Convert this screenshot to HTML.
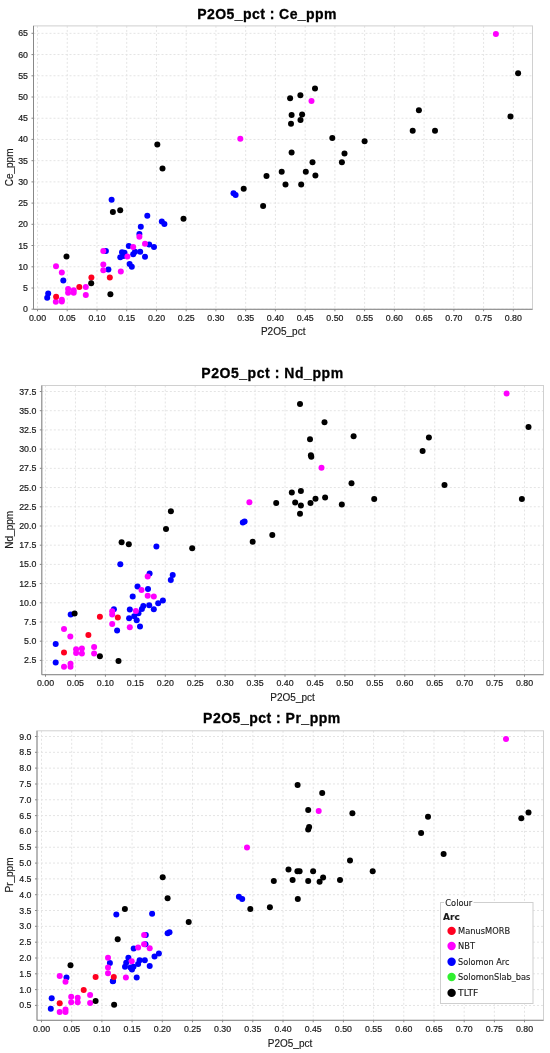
<!DOCTYPE html><html><head><meta charset="utf-8"><title>P2O5_pct scatter plots</title><style>
html,body{margin:0;padding:0;background:#fff;width:550px;height:1053px;overflow:hidden}
svg{display:block}
.t{font:bold 14px "Liberation Sans",Arial,sans-serif;fill:#000;stroke:#000;stroke-width:0.3px}
.tk{font:8.8px "Liberation Sans",Arial,sans-serif;fill:#1a1a1a;stroke:#1a1a1a;stroke-width:0.2px}
.al{font:10px "Liberation Sans",Arial,sans-serif;fill:#1a1a1a;stroke:#1a1a1a;stroke-width:0.15px}
.lg{font:9px "DejaVu Sans Condensed","DejaVu Sans","Liberation Sans",sans-serif;fill:#1a1a1a;stroke:#1a1a1a;stroke-width:0.12px}
</style></head><body>
<svg width="550" height="1053" viewBox="0 0 550 1053">
<path d="M37.50 25.9V309.3M67.24 25.9V309.3M96.98 25.9V309.3M126.72 25.9V309.3M156.46 25.9V309.3M186.20 25.9V309.3M215.94 25.9V309.3M245.68 25.9V309.3M275.42 25.9V309.3M305.16 25.9V309.3M334.90 25.9V309.3M364.64 25.9V309.3M394.38 25.9V309.3M424.12 25.9V309.3M453.86 25.9V309.3M483.60 25.9V309.3M513.34 25.9V309.3M33.5 309.20H532.5M33.5 287.98H532.5M33.5 266.76H532.5M33.5 245.54H532.5M33.5 224.32H532.5M33.5 203.10H532.5M33.5 181.88H532.5M33.5 160.66H532.5M33.5 139.44H532.5M33.5 118.22H532.5M33.5 97.00H532.5M33.5 75.78H532.5M33.5 54.56H532.5M33.5 33.34H532.5" stroke="#e4e4e4" stroke-width="1" stroke-dasharray="2 2" fill="none"/>
<rect x="33.5" y="25.9" width="499.0" height="283.4" fill="none" stroke="#d0d0d0" stroke-width="1"/>
<path d="M33.5 25.9V309.3H532.5M37.5 309.3v2M67.2 309.3v2M97.0 309.3v2M126.7 309.3v2M156.5 309.3v2M186.2 309.3v2M215.9 309.3v2M245.7 309.3v2M275.4 309.3v2M305.2 309.3v2M334.9 309.3v2M364.6 309.3v2M394.4 309.3v2M424.1 309.3v2M453.9 309.3v2M483.6 309.3v2M513.3 309.3v2M33.5 309.2h-2M33.5 288.0h-2M33.5 266.8h-2M33.5 245.5h-2M33.5 224.3h-2M33.5 203.1h-2M33.5 181.9h-2M33.5 160.7h-2M33.5 139.4h-2M33.5 118.2h-2M33.5 97.0h-2M33.5 75.8h-2M33.5 54.6h-2M33.5 33.3h-2" stroke="#888" stroke-width="1" fill="none"/>
<g fill="#0000ff"><circle cx="63.3" cy="280.6" r="3"/><circle cx="48.2" cy="293.4" r="3"/><circle cx="47.2" cy="297.7" r="3"/><circle cx="108.4" cy="269.4" r="3"/><circle cx="105.9" cy="251.0" r="3"/><circle cx="129.6" cy="264.1" r="3"/><circle cx="131.8" cy="266.7" r="3"/><circle cx="120.3" cy="257.3" r="3"/><circle cx="122.0" cy="252.3" r="3"/><circle cx="124.5" cy="252.7" r="3"/><circle cx="123.5" cy="256.0" r="3"/><circle cx="128.8" cy="246.1" r="3"/><circle cx="133.2" cy="254.2" r="3"/><circle cx="135.0" cy="251.8" r="3"/><circle cx="140.2" cy="251.8" r="3"/><circle cx="145.0" cy="256.7" r="3"/><circle cx="149.2" cy="244.5" r="3"/><circle cx="154.0" cy="247.1" r="3"/><circle cx="139.4" cy="234.1" r="3"/><circle cx="140.8" cy="226.8" r="3"/><circle cx="147.3" cy="215.7" r="3"/><circle cx="161.8" cy="221.5" r="3"/><circle cx="164.4" cy="223.9" r="3"/><circle cx="111.6" cy="199.8" r="3"/><circle cx="233.5" cy="193.2" r="3"/><circle cx="235.6" cy="195.0" r="3"/></g>
<g fill="#ff00ff"><circle cx="495.9" cy="34.1" r="3"/><circle cx="311.5" cy="101.0" r="3"/><circle cx="240.3" cy="138.8" r="3"/><circle cx="56.0" cy="266.3" r="3"/><circle cx="61.8" cy="272.6" r="3"/><circle cx="55.8" cy="301.8" r="3"/><circle cx="61.8" cy="299.8" r="3"/><circle cx="61.8" cy="301.5" r="3"/><circle cx="68.1" cy="289.0" r="3"/><circle cx="68.1" cy="292.8" r="3"/><circle cx="73.7" cy="290.3" r="3"/><circle cx="73.7" cy="292.8" r="3"/><circle cx="85.8" cy="287.0" r="3"/><circle cx="85.8" cy="295.0" r="3"/><circle cx="103.3" cy="264.4" r="3"/><circle cx="103.3" cy="270.2" r="3"/><circle cx="103.3" cy="251.0" r="3"/><circle cx="120.8" cy="271.6" r="3"/><circle cx="127.4" cy="256.5" r="3"/><circle cx="133.2" cy="247.1" r="3"/><circle cx="139.4" cy="236.7" r="3"/><circle cx="145.0" cy="243.7" r="3"/></g>
<g fill="#ff0020"><circle cx="56.1" cy="296.7" r="3"/><circle cx="79.3" cy="287.0" r="3"/><circle cx="91.4" cy="277.4" r="3"/><circle cx="109.8" cy="277.4" r="3"/></g>
<g fill="#000"><circle cx="66.5" cy="256.5" r="3"/><circle cx="91.2" cy="283.2" r="3"/><circle cx="110.4" cy="294.3" r="3"/><circle cx="112.9" cy="211.9" r="3"/><circle cx="120.2" cy="210.2" r="3"/><circle cx="157.3" cy="144.5" r="3"/><circle cx="162.5" cy="168.4" r="3"/><circle cx="183.5" cy="218.7" r="3"/><circle cx="243.7" cy="188.8" r="3"/><circle cx="263.1" cy="206.1" r="3"/><circle cx="266.5" cy="176.1" r="3"/><circle cx="281.7" cy="171.8" r="3"/><circle cx="285.5" cy="184.6" r="3"/><circle cx="291.6" cy="152.6" r="3"/><circle cx="291.0" cy="123.7" r="3"/><circle cx="300.5" cy="120.0" r="3"/><circle cx="302.1" cy="114.5" r="3"/><circle cx="291.6" cy="115.0" r="3"/><circle cx="290.1" cy="98.2" r="3"/><circle cx="300.4" cy="95.3" r="3"/><circle cx="315.0" cy="88.4" r="3"/><circle cx="301.2" cy="184.6" r="3"/><circle cx="305.8" cy="171.8" r="3"/><circle cx="312.5" cy="162.2" r="3"/><circle cx="315.4" cy="175.6" r="3"/><circle cx="332.3" cy="138.0" r="3"/><circle cx="364.6" cy="141.2" r="3"/><circle cx="344.5" cy="153.5" r="3"/><circle cx="341.9" cy="162.2" r="3"/><circle cx="418.9" cy="110.2" r="3"/><circle cx="412.7" cy="130.7" r="3"/><circle cx="435.0" cy="130.7" r="3"/><circle cx="518.1" cy="73.2" r="3"/><circle cx="510.5" cy="116.4" r="3"/></g>
<text class="tk" x="37.5" y="321.0" text-anchor="middle">0.00</text>
<text class="tk" x="67.2" y="321.0" text-anchor="middle">0.05</text>
<text class="tk" x="97.0" y="321.0" text-anchor="middle">0.10</text>
<text class="tk" x="126.7" y="321.0" text-anchor="middle">0.15</text>
<text class="tk" x="156.5" y="321.0" text-anchor="middle">0.20</text>
<text class="tk" x="186.2" y="321.0" text-anchor="middle">0.25</text>
<text class="tk" x="215.9" y="321.0" text-anchor="middle">0.30</text>
<text class="tk" x="245.7" y="321.0" text-anchor="middle">0.35</text>
<text class="tk" x="275.4" y="321.0" text-anchor="middle">0.40</text>
<text class="tk" x="305.2" y="321.0" text-anchor="middle">0.45</text>
<text class="tk" x="334.9" y="321.0" text-anchor="middle">0.50</text>
<text class="tk" x="364.6" y="321.0" text-anchor="middle">0.55</text>
<text class="tk" x="394.4" y="321.0" text-anchor="middle">0.60</text>
<text class="tk" x="424.1" y="321.0" text-anchor="middle">0.65</text>
<text class="tk" x="453.9" y="321.0" text-anchor="middle">0.70</text>
<text class="tk" x="483.6" y="321.0" text-anchor="middle">0.75</text>
<text class="tk" x="513.3" y="321.0" text-anchor="middle">0.80</text>
<text class="tk" x="28.0" y="312.2" text-anchor="end">0</text>
<text class="tk" x="28.0" y="291.0" text-anchor="end">5</text>
<text class="tk" x="28.0" y="269.8" text-anchor="end">10</text>
<text class="tk" x="28.0" y="248.5" text-anchor="end">15</text>
<text class="tk" x="28.0" y="227.3" text-anchor="end">20</text>
<text class="tk" x="28.0" y="206.1" text-anchor="end">25</text>
<text class="tk" x="28.0" y="184.9" text-anchor="end">30</text>
<text class="tk" x="28.0" y="163.7" text-anchor="end">35</text>
<text class="tk" x="28.0" y="142.4" text-anchor="end">40</text>
<text class="tk" x="28.0" y="121.2" text-anchor="end">45</text>
<text class="tk" x="28.0" y="100.0" text-anchor="end">50</text>
<text class="tk" x="28.0" y="78.8" text-anchor="end">55</text>
<text class="tk" x="28.0" y="57.6" text-anchor="end">60</text>
<text class="tk" x="28.0" y="36.3" text-anchor="end">65</text>
<text class="al" x="283.2" y="334.7" text-anchor="middle">P2O5_pct</text>
<text class="al" transform="translate(13.1 167.4) rotate(-90)" text-anchor="middle">Ce_ppm</text>
<text class="t" x="197.3" y="18.7" textLength="139.2" lengthAdjust="spacing">P2O5_pct : Ce_ppm</text>
<path d="M45.50 385.5V674.7M75.44 385.5V674.7M105.38 385.5V674.7M135.32 385.5V674.7M165.26 385.5V674.7M195.20 385.5V674.7M225.14 385.5V674.7M255.08 385.5V674.7M285.02 385.5V674.7M314.96 385.5V674.7M344.90 385.5V674.7M374.84 385.5V674.7M404.78 385.5V674.7M434.72 385.5V674.7M464.66 385.5V674.7M494.60 385.5V674.7M524.54 385.5V674.7M41.8 660.44H543.5M41.8 641.23H543.5M41.8 622.02H543.5M41.8 602.81H543.5M41.8 583.60H543.5M41.8 564.39H543.5M41.8 545.18H543.5M41.8 525.97H543.5M41.8 506.76H543.5M41.8 487.55H543.5M41.8 468.34H543.5M41.8 449.13H543.5M41.8 429.92H543.5M41.8 410.71H543.5M41.8 391.50H543.5" stroke="#e4e4e4" stroke-width="1" stroke-dasharray="2 2" fill="none"/>
<rect x="41.8" y="385.5" width="501.7" height="289.2" fill="none" stroke="#d0d0d0" stroke-width="1"/>
<path d="M41.8 385.5V674.7H543.5M45.5 674.7v2M75.4 674.7v2M105.4 674.7v2M135.3 674.7v2M165.3 674.7v2M195.2 674.7v2M225.1 674.7v2M255.1 674.7v2M285.0 674.7v2M315.0 674.7v2M344.9 674.7v2M374.8 674.7v2M404.8 674.7v2M434.7 674.7v2M464.7 674.7v2M494.6 674.7v2M524.5 674.7v2M41.8 660.4h-2M41.8 641.2h-2M41.8 622.0h-2M41.8 602.8h-2M41.8 583.6h-2M41.8 564.4h-2M41.8 545.2h-2M41.8 526.0h-2M41.8 506.8h-2M41.8 487.6h-2M41.8 468.3h-2M41.8 449.1h-2M41.8 429.9h-2M41.8 410.7h-2M41.8 391.5h-2" stroke="#888" stroke-width="1" fill="none"/>
<g fill="#0000ff"><circle cx="70.7" cy="614.5" r="3"/><circle cx="55.7" cy="643.9" r="3"/><circle cx="55.7" cy="662.4" r="3"/><circle cx="113.9" cy="609.2" r="3"/><circle cx="117.1" cy="630.6" r="3"/><circle cx="120.3" cy="564.3" r="3"/><circle cx="156.4" cy="546.4" r="3"/><circle cx="149.6" cy="573.5" r="3"/><circle cx="172.7" cy="575.0" r="3"/><circle cx="170.8" cy="580.1" r="3"/><circle cx="137.5" cy="586.4" r="3"/><circle cx="148.0" cy="588.9" r="3"/><circle cx="132.7" cy="596.5" r="3"/><circle cx="162.9" cy="600.5" r="3"/><circle cx="158.2" cy="603.2" r="3"/><circle cx="149.2" cy="605.2" r="3"/><circle cx="143.3" cy="605.9" r="3"/><circle cx="141.9" cy="609.0" r="3"/><circle cx="153.8" cy="609.3" r="3"/><circle cx="129.8" cy="609.5" r="3"/><circle cx="138.5" cy="613.2" r="3"/><circle cx="134.2" cy="616.3" r="3"/><circle cx="129.1" cy="618.3" r="3"/><circle cx="136.7" cy="620.2" r="3"/><circle cx="140.0" cy="626.4" r="3"/><circle cx="242.8" cy="522.5" r="3"/><circle cx="244.6" cy="521.5" r="3"/></g>
<g fill="#ff00ff"><circle cx="506.6" cy="393.5" r="3"/><circle cx="321.5" cy="467.8" r="3"/><circle cx="249.4" cy="502.3" r="3"/><circle cx="147.7" cy="576.6" r="3"/><circle cx="141.5" cy="589.9" r="3"/><circle cx="147.7" cy="595.7" r="3"/><circle cx="153.8" cy="596.5" r="3"/><circle cx="135.9" cy="611.0" r="3"/><circle cx="129.8" cy="627.2" r="3"/><circle cx="112.2" cy="611.2" r="3"/><circle cx="112.2" cy="614.4" r="3"/><circle cx="112.2" cy="624.1" r="3"/><circle cx="64.0" cy="628.9" r="3"/><circle cx="70.3" cy="636.5" r="3"/><circle cx="76.1" cy="649.3" r="3"/><circle cx="76.1" cy="652.9" r="3"/><circle cx="81.9" cy="648.5" r="3"/><circle cx="81.9" cy="653.6" r="3"/><circle cx="94.1" cy="647.1" r="3"/><circle cx="94.1" cy="653.6" r="3"/><circle cx="64.0" cy="666.7" r="3"/><circle cx="70.5" cy="663.8" r="3"/><circle cx="70.5" cy="666.7" r="3"/></g>
<g fill="#ff0020"><circle cx="99.9" cy="616.8" r="3"/><circle cx="117.8" cy="617.5" r="3"/><circle cx="88.4" cy="635.0" r="3"/><circle cx="64.0" cy="652.6" r="3"/></g>
<g fill="#000"><circle cx="74.6" cy="613.5" r="3"/><circle cx="99.9" cy="656.3" r="3"/><circle cx="118.5" cy="660.9" r="3"/><circle cx="121.6" cy="542.2" r="3"/><circle cx="128.8" cy="544.2" r="3"/><circle cx="166.0" cy="529.1" r="3"/><circle cx="170.9" cy="511.3" r="3"/><circle cx="192.2" cy="548.2" r="3"/><circle cx="252.7" cy="541.7" r="3"/><circle cx="272.3" cy="535.0" r="3"/><circle cx="276.2" cy="502.9" r="3"/><circle cx="291.8" cy="492.6" r="3"/><circle cx="295.2" cy="502.4" r="3"/><circle cx="300.9" cy="490.9" r="3"/><circle cx="300.9" cy="505.6" r="3"/><circle cx="300.0" cy="513.7" r="3"/><circle cx="310.5" cy="503.1" r="3"/><circle cx="315.5" cy="498.7" r="3"/><circle cx="325.1" cy="497.5" r="3"/><circle cx="341.8" cy="504.5" r="3"/><circle cx="374.2" cy="499.1" r="3"/><circle cx="351.5" cy="483.3" r="3"/><circle cx="310.9" cy="455.2" r="3"/><circle cx="311.3" cy="456.8" r="3"/><circle cx="310.0" cy="439.2" r="3"/><circle cx="353.6" cy="436.3" r="3"/><circle cx="324.5" cy="422.3" r="3"/><circle cx="300.0" cy="404.1" r="3"/><circle cx="428.9" cy="437.6" r="3"/><circle cx="422.6" cy="451.1" r="3"/><circle cx="444.5" cy="485.0" r="3"/><circle cx="521.9" cy="499.1" r="3"/><circle cx="528.5" cy="427.1" r="3"/></g>
<text class="tk" x="45.5" y="686.4" text-anchor="middle">0.00</text>
<text class="tk" x="75.4" y="686.4" text-anchor="middle">0.05</text>
<text class="tk" x="105.4" y="686.4" text-anchor="middle">0.10</text>
<text class="tk" x="135.3" y="686.4" text-anchor="middle">0.15</text>
<text class="tk" x="165.3" y="686.4" text-anchor="middle">0.20</text>
<text class="tk" x="195.2" y="686.4" text-anchor="middle">0.25</text>
<text class="tk" x="225.1" y="686.4" text-anchor="middle">0.30</text>
<text class="tk" x="255.1" y="686.4" text-anchor="middle">0.35</text>
<text class="tk" x="285.0" y="686.4" text-anchor="middle">0.40</text>
<text class="tk" x="315.0" y="686.4" text-anchor="middle">0.45</text>
<text class="tk" x="344.9" y="686.4" text-anchor="middle">0.50</text>
<text class="tk" x="374.8" y="686.4" text-anchor="middle">0.55</text>
<text class="tk" x="404.8" y="686.4" text-anchor="middle">0.60</text>
<text class="tk" x="434.7" y="686.4" text-anchor="middle">0.65</text>
<text class="tk" x="464.7" y="686.4" text-anchor="middle">0.70</text>
<text class="tk" x="494.6" y="686.4" text-anchor="middle">0.75</text>
<text class="tk" x="524.5" y="686.4" text-anchor="middle">0.80</text>
<text class="tk" x="36.3" y="663.4" text-anchor="end">2.5</text>
<text class="tk" x="36.3" y="644.2" text-anchor="end">5.0</text>
<text class="tk" x="36.3" y="625.0" text-anchor="end">7.5</text>
<text class="tk" x="36.3" y="605.8" text-anchor="end">10.0</text>
<text class="tk" x="36.3" y="586.6" text-anchor="end">12.5</text>
<text class="tk" x="36.3" y="567.4" text-anchor="end">15.0</text>
<text class="tk" x="36.3" y="548.2" text-anchor="end">17.5</text>
<text class="tk" x="36.3" y="529.0" text-anchor="end">20.0</text>
<text class="tk" x="36.3" y="509.8" text-anchor="end">22.5</text>
<text class="tk" x="36.3" y="490.6" text-anchor="end">25.0</text>
<text class="tk" x="36.3" y="471.3" text-anchor="end">27.5</text>
<text class="tk" x="36.3" y="452.1" text-anchor="end">30.0</text>
<text class="tk" x="36.3" y="432.9" text-anchor="end">32.5</text>
<text class="tk" x="36.3" y="413.7" text-anchor="end">35.0</text>
<text class="tk" x="36.3" y="394.5" text-anchor="end">37.5</text>
<text class="al" x="292.6" y="700.5" text-anchor="middle">P2O5_pct</text>
<text class="al" transform="translate(12.9 529.8) rotate(-90)" text-anchor="middle">Nd_ppm</text>
<text class="t" x="201.3" y="377.9" textLength="141.8" lengthAdjust="spacing">P2O5_pct : Nd_ppm</text>
<path d="M41.50 730.8V1020.3M71.69 730.8V1020.3M101.88 730.8V1020.3M132.07 730.8V1020.3M162.26 730.8V1020.3M192.45 730.8V1020.3M222.64 730.8V1020.3M252.83 730.8V1020.3M283.02 730.8V1020.3M313.21 730.8V1020.3M343.40 730.8V1020.3M373.59 730.8V1020.3M403.78 730.8V1020.3M433.97 730.8V1020.3M464.16 730.8V1020.3M494.35 730.8V1020.3M524.54 730.8V1020.3M37.0 1005.44H543.5M37.0 989.62H543.5M37.0 973.80H543.5M37.0 957.98H543.5M37.0 942.16H543.5M37.0 926.34H543.5M37.0 910.52H543.5M37.0 894.70H543.5M37.0 878.88H543.5M37.0 863.06H543.5M37.0 847.24H543.5M37.0 831.42H543.5M37.0 815.60H543.5M37.0 799.78H543.5M37.0 783.96H543.5M37.0 768.14H543.5M37.0 752.32H543.5M37.0 736.50H543.5" stroke="#e4e4e4" stroke-width="1" stroke-dasharray="2 2" fill="none"/>
<rect x="37.0" y="730.8" width="506.5" height="289.5" fill="none" stroke="#d0d0d0" stroke-width="1"/>
<path d="M37.0 730.8V1020.3H543.5M41.5 1020.3v2M71.7 1020.3v2M101.9 1020.3v2M132.1 1020.3v2M162.3 1020.3v2M192.5 1020.3v2M222.6 1020.3v2M252.8 1020.3v2M283.0 1020.3v2M313.2 1020.3v2M343.4 1020.3v2M373.6 1020.3v2M403.8 1020.3v2M434.0 1020.3v2M464.2 1020.3v2M494.4 1020.3v2M524.5 1020.3v2M37.0 1005.4h-2M37.0 989.6h-2M37.0 973.8h-2M37.0 958.0h-2M37.0 942.2h-2M37.0 926.3h-2M37.0 910.5h-2M37.0 894.7h-2M37.0 878.9h-2M37.0 863.1h-2M37.0 847.2h-2M37.0 831.4h-2M37.0 815.6h-2M37.0 799.8h-2M37.0 784.0h-2M37.0 768.1h-2M37.0 752.3h-2M37.0 736.5h-2" stroke="#888" stroke-width="1" fill="none"/>
<g fill="#0000ff"><circle cx="116.3" cy="914.6" r="3"/><circle cx="152.1" cy="913.8" r="3"/><circle cx="167.6" cy="933.3" r="3"/><circle cx="169.5" cy="932.3" r="3"/><circle cx="145.8" cy="935.0" r="3"/><circle cx="145.5" cy="944.2" r="3"/><circle cx="133.7" cy="948.5" r="3"/><circle cx="154.5" cy="956.5" r="3"/><circle cx="158.9" cy="953.6" r="3"/><circle cx="109.9" cy="963.1" r="3"/><circle cx="112.8" cy="981.3" r="3"/><circle cx="128.4" cy="957.7" r="3"/><circle cx="126.2" cy="962.7" r="3"/><circle cx="125.0" cy="966.7" r="3"/><circle cx="130.5" cy="967.5" r="3"/><circle cx="133.5" cy="966.7" r="3"/><circle cx="132.0" cy="969.6" r="3"/><circle cx="139.6" cy="960.2" r="3"/><circle cx="138.1" cy="964.1" r="3"/><circle cx="144.8" cy="960.2" r="3"/><circle cx="149.7" cy="966.0" r="3"/><circle cx="136.7" cy="977.6" r="3"/><circle cx="113.1" cy="981.1" r="3"/><circle cx="66.5" cy="977.5" r="3"/><circle cx="51.7" cy="998.3" r="3"/><circle cx="50.8" cy="1008.7" r="3"/><circle cx="238.9" cy="896.7" r="3"/><circle cx="242.2" cy="898.9" r="3"/></g>
<g fill="#ff00ff"><circle cx="506.0" cy="739.0" r="3"/><circle cx="318.7" cy="810.9" r="3"/><circle cx="247.0" cy="847.6" r="3"/><circle cx="144.1" cy="935.0" r="3"/><circle cx="144.1" cy="944.2" r="3"/><circle cx="138.1" cy="947.5" r="3"/><circle cx="149.7" cy="948.3" r="3"/><circle cx="131.7" cy="961.2" r="3"/><circle cx="125.9" cy="977.6" r="3"/><circle cx="108.0" cy="957.8" r="3"/><circle cx="108.0" cy="967.5" r="3"/><circle cx="108.0" cy="973.3" r="3"/><circle cx="59.7" cy="976.0" r="3"/><circle cx="65.5" cy="981.8" r="3"/><circle cx="90.1" cy="994.9" r="3"/><circle cx="90.1" cy="1002.9" r="3"/><circle cx="71.2" cy="996.8" r="3"/><circle cx="71.2" cy="1002.2" r="3"/><circle cx="77.7" cy="997.8" r="3"/><circle cx="77.7" cy="1002.2" r="3"/><circle cx="59.7" cy="1011.9" r="3"/><circle cx="65.5" cy="1009.5" r="3"/><circle cx="65.5" cy="1011.9" r="3"/></g>
<g fill="#ff0020"><circle cx="95.6" cy="977.0" r="3"/><circle cx="113.8" cy="977.0" r="3"/><circle cx="83.7" cy="990.1" r="3"/><circle cx="59.7" cy="1003.2" r="3"/></g>
<g fill="#000"><circle cx="70.5" cy="965.3" r="3"/><circle cx="95.6" cy="1001.0" r="3"/><circle cx="114.1" cy="1004.8" r="3"/><circle cx="117.7" cy="939.3" r="3"/><circle cx="124.9" cy="908.9" r="3"/><circle cx="162.7" cy="877.3" r="3"/><circle cx="167.6" cy="898.2" r="3"/><circle cx="188.7" cy="921.9" r="3"/><circle cx="250.3" cy="909.0" r="3"/><circle cx="269.9" cy="907.2" r="3"/><circle cx="273.8" cy="881.0" r="3"/><circle cx="288.5" cy="869.5" r="3"/><circle cx="297.4" cy="871.3" r="3"/><circle cx="299.6" cy="871.3" r="3"/><circle cx="292.6" cy="880.0" r="3"/><circle cx="297.8" cy="899.0" r="3"/><circle cx="297.6" cy="784.9" r="3"/><circle cx="322.2" cy="793.1" r="3"/><circle cx="308.2" cy="810.0" r="3"/><circle cx="352.4" cy="813.3" r="3"/><circle cx="309.1" cy="826.9" r="3"/><circle cx="308.2" cy="829.6" r="3"/><circle cx="350.0" cy="860.5" r="3"/><circle cx="313.1" cy="871.3" r="3"/><circle cx="308.2" cy="880.9" r="3"/><circle cx="323.1" cy="877.6" r="3"/><circle cx="319.6" cy="881.8" r="3"/><circle cx="340.0" cy="880.0" r="3"/><circle cx="372.7" cy="871.3" r="3"/><circle cx="428.0" cy="816.7" r="3"/><circle cx="421.1" cy="832.9" r="3"/><circle cx="443.6" cy="853.9" r="3"/><circle cx="521.3" cy="818.2" r="3"/><circle cx="528.5" cy="812.5" r="3"/></g>
<text class="tk" x="41.5" y="1032.0" text-anchor="middle">0.00</text>
<text class="tk" x="71.7" y="1032.0" text-anchor="middle">0.05</text>
<text class="tk" x="101.9" y="1032.0" text-anchor="middle">0.10</text>
<text class="tk" x="132.1" y="1032.0" text-anchor="middle">0.15</text>
<text class="tk" x="162.3" y="1032.0" text-anchor="middle">0.20</text>
<text class="tk" x="192.5" y="1032.0" text-anchor="middle">0.25</text>
<text class="tk" x="222.6" y="1032.0" text-anchor="middle">0.30</text>
<text class="tk" x="252.8" y="1032.0" text-anchor="middle">0.35</text>
<text class="tk" x="283.0" y="1032.0" text-anchor="middle">0.40</text>
<text class="tk" x="313.2" y="1032.0" text-anchor="middle">0.45</text>
<text class="tk" x="343.4" y="1032.0" text-anchor="middle">0.50</text>
<text class="tk" x="373.6" y="1032.0" text-anchor="middle">0.55</text>
<text class="tk" x="403.8" y="1032.0" text-anchor="middle">0.60</text>
<text class="tk" x="434.0" y="1032.0" text-anchor="middle">0.65</text>
<text class="tk" x="464.2" y="1032.0" text-anchor="middle">0.70</text>
<text class="tk" x="494.4" y="1032.0" text-anchor="middle">0.75</text>
<text class="tk" x="524.5" y="1032.0" text-anchor="middle">0.80</text>
<text class="tk" x="31.5" y="1008.4" text-anchor="end">0.5</text>
<text class="tk" x="31.5" y="992.6" text-anchor="end">1.0</text>
<text class="tk" x="31.5" y="976.8" text-anchor="end">1.5</text>
<text class="tk" x="31.5" y="961.0" text-anchor="end">2.0</text>
<text class="tk" x="31.5" y="945.2" text-anchor="end">2.5</text>
<text class="tk" x="31.5" y="929.3" text-anchor="end">3.0</text>
<text class="tk" x="31.5" y="913.5" text-anchor="end">3.5</text>
<text class="tk" x="31.5" y="897.7" text-anchor="end">4.0</text>
<text class="tk" x="31.5" y="881.9" text-anchor="end">4.5</text>
<text class="tk" x="31.5" y="866.1" text-anchor="end">5.0</text>
<text class="tk" x="31.5" y="850.2" text-anchor="end">5.5</text>
<text class="tk" x="31.5" y="834.4" text-anchor="end">6.0</text>
<text class="tk" x="31.5" y="818.6" text-anchor="end">6.5</text>
<text class="tk" x="31.5" y="802.8" text-anchor="end">7.0</text>
<text class="tk" x="31.5" y="787.0" text-anchor="end">7.5</text>
<text class="tk" x="31.5" y="771.1" text-anchor="end">8.0</text>
<text class="tk" x="31.5" y="755.3" text-anchor="end">8.5</text>
<text class="tk" x="31.5" y="739.5" text-anchor="end">9.0</text>
<text class="al" x="290.0" y="1046.8" text-anchor="middle">P2O5_pct</text>
<text class="al" transform="translate(12.9 875.0) rotate(-90)" text-anchor="middle">Pr_ppm</text>
<text class="t" x="203.1" y="723.2" textLength="137.1" lengthAdjust="spacing">P2O5_pct : Pr_ppm</text>
<rect x="440.5" y="902.5" width="92.5" height="101" fill="#fff" stroke="#cfcfcf" stroke-width="1"/>
<rect x="444" y="897" width="29.5" height="10" fill="#fff"/>
<text class="lg" x="445.3" y="906.0" textLength="26.9" lengthAdjust="spacingAndGlyphs">Colour</text>
<text class="lg" x="443.0" y="919.6" textLength="16.7" lengthAdjust="spacingAndGlyphs" style="font-weight:bold">Arc</text>
<circle cx="451.6" cy="930.9" r="4.2" fill="#ff0020"/>
<text class="lg" x="458.1" y="933.9" textLength="52.1" lengthAdjust="spacingAndGlyphs">ManusMORB</text>
<circle cx="451.6" cy="946.0" r="4.2" fill="#ff00ff"/>
<text class="lg" x="458.1" y="949.0" textLength="16.9" lengthAdjust="spacingAndGlyphs">NBT</text>
<circle cx="451.6" cy="961.8" r="4.2" fill="#0000ff"/>
<text class="lg" x="458.1" y="964.8" textLength="51.3" lengthAdjust="spacingAndGlyphs">Solomon Arc</text>
<circle cx="451.6" cy="977.0" r="4.2" fill="#30f030"/>
<text class="lg" x="458.1" y="980.0" textLength="72.3" lengthAdjust="spacingAndGlyphs">SolomonSlab_bas</text>
<circle cx="451.6" cy="992.9" r="4.2" fill="#000"/>
<text class="lg" x="458.1" y="995.9" textLength="20.2" lengthAdjust="spacingAndGlyphs">TLTF</text>
</svg></body></html>
